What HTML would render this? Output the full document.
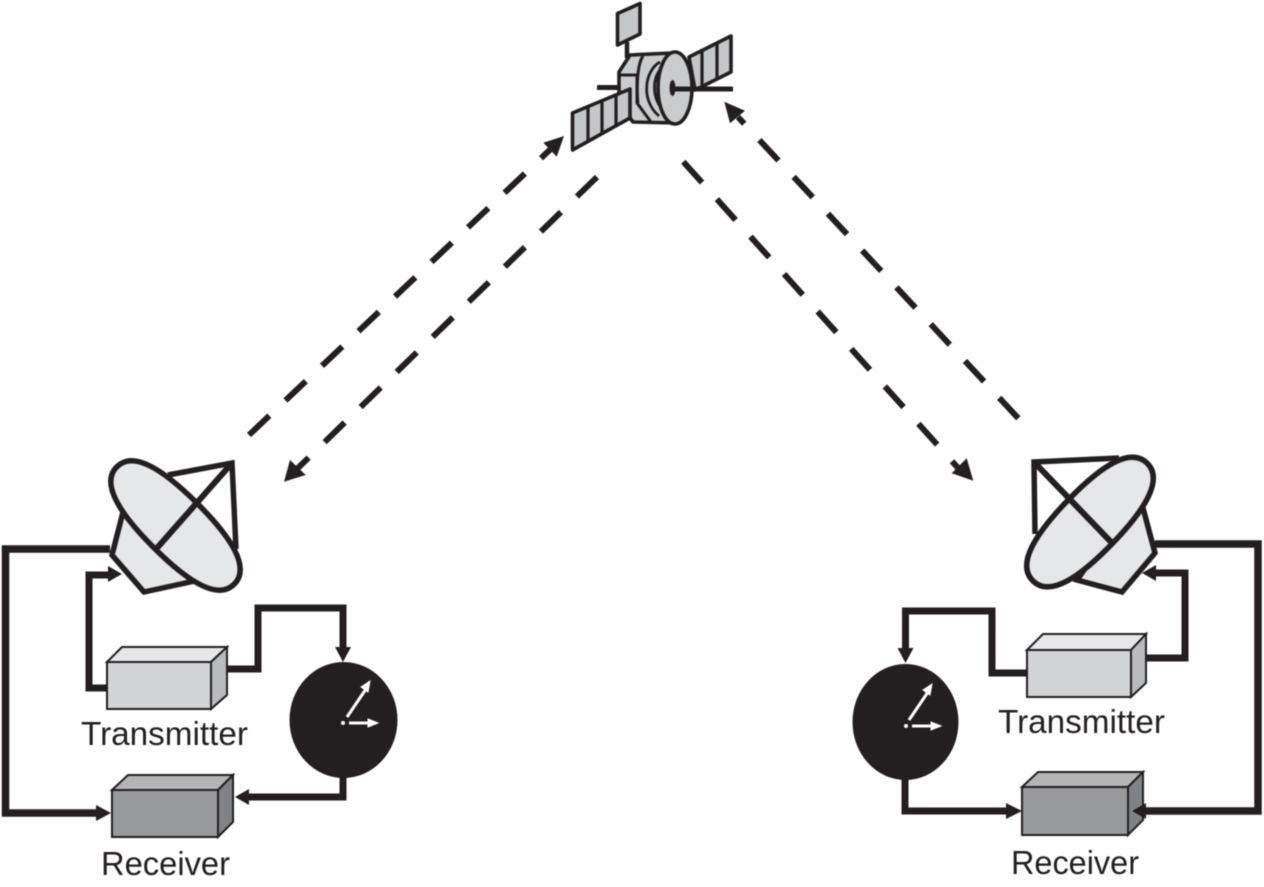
<!DOCTYPE html>
<html><head><meta charset="utf-8"><style>
html,body{margin:0;padding:0;background:#fff}
svg{display:block}
text{font-family:"Liberation Sans",sans-serif;font-size:33px;fill:#231f20}
#all{filter:blur(0.45px)}
</style></head><body>
<svg width="1264" height="887" viewBox="0 0 1264 887" xmlns="http://www.w3.org/2000/svg">
<g id="all">
<g stroke="#231f20" stroke-width="6" fill="none" stroke-dasharray="28 22.3">
<path d="M249,435 L550,149.700"/>
<path d="M597,177 L298,468"/>
<path d="M683.300,161.700 L959,469"/>
<path d="M1018.300,418.300 L738,117"/>
</g>
<g fill="#231f20">
<path d="M564,136 L543.300,142.700 L556.700,156.700Z"/>
<path d="M284,481.700 L290,460 L305.700,475Z"/>
<path d="M973.300,480.700 L951.700,473.300 L966.700,458.300Z"/>
<path d="M724.300,101.700 L730,123.300 L745,110.700Z"/>
</g>

<!-- Satellite -->
<g stroke="#231f20" stroke-width="3.6" stroke-linejoin="round">
<path d="M627,42V58" fill="none" stroke-width="4.500"/>
<path d="M617.500,13.500L640,3.500V34L617.500,45Z" fill="#c4c6c8"/>
<path d="M597,87.500H620" fill="none" stroke-width="5"/>
<path d="M619,72L630,55L672,53L676,123L633,122L619,103Z" fill="#c9cbcd"/>
<path d="M619,75H637V103L651,122" fill="none" stroke-width="3"/>
<path d="M643,56C636,66 637,95 638,103" fill="none" stroke-width="3"/>
<path d="M660,62C645,70 640,100 659,116M662,68C652,76 651,100 665,112" fill="none" stroke-width="2.800"/>
<path d="M572.500,113L630,89V118L572.500,150Z" fill="#c4c6c8"/>
<path d="M588,107V141M602,101V134M616,95V126" stroke-width="3.200" fill="none"/>
<path d="M689,57L731,36V72L695,90Z" fill="#c4c6c8"/>
<path d="M702,51V85M717,43V78" stroke-width="3.200" fill="none"/>
<ellipse cx="675" cy="88" rx="17" ry="36" fill="#c9cbcd"/>
<ellipse cx="672.500" cy="88" rx="3" ry="8" fill="#231f20" stroke="none"/>
<path d="M673,89H733" fill="none" stroke-width="5"/>
</g>

<!-- Left dish -->
<g stroke="#231f20" stroke-width="5.5" stroke-linejoin="miter" fill="#e6e7e8">
<path d="M123,512L112,555L144,592L190,582L176,540Z"/>
<path d="M168,475L232,463L236,549" fill="#fff"/>
<path transform="translate(175.500 525.500) rotate(45)" d="M-83,0C-83,-24 -46,-31 0,-31C46,-31 83,-24 83,0C83,24 46,31 0,31C-46,31 -83,24 -83,0Z"/>
<path d="M232,463L157,548" fill="none" stroke-width="6"/>
</g>
<!-- Right dish -->
<g stroke="#231f20" stroke-width="5.5" stroke-linejoin="miter" fill="#e6e7e8">
<path d="M1143,508L1155,553L1122,592L1077,580L1105,540Z"/>
<path d="M1119,458L1034,462L1035,534" fill="#fff"/>
<path transform="translate(1090 522) rotate(-46)" d="M-82,0C-82,-24 -46,-31 0,-31C46,-31 82,-24 82,0C82,24 46,31 0,31C-46,31 -82,24 -82,0Z"/>
<path d="M1034,462L1112,543" fill="none" stroke-width="6"/>
</g>

<!-- Left wires -->
<g stroke="#231f20" fill="none" stroke-linejoin="miter">
<path d="M110,549H5.500V813H100" stroke-width="7.5"/>
<path d="M107,688H89V575H110" stroke-width="7"/>
<path d="M227,669H258V608H343V650" stroke-width="7"/>
<path d="M343,775V797H246" stroke-width="7"/>
</g>
<g fill="#231f20">
<path d="M111,813L96,805V821Z"/>
<path d="M122,574L108,566V582Z"/>
<path d="M343,662L335,647H351Z"/>
<path d="M235,797L249,789V805Z"/>
</g>
<!-- Right wires -->
<g stroke="#231f20" fill="none" stroke-linejoin="miter">
<path d="M1155,544H1258V811H1145" stroke-width="7.5"/>
<path d="M1146,658H1185V573H1155" stroke-width="7"/>
<path d="M1027,673H992V611H905.500V650" stroke-width="7"/>
<path d="M905,775V811H1010" stroke-width="7"/>
</g>

<!-- Boxes -->
<g stroke="#231f20" stroke-width="2" stroke-linejoin="miter">
<path d="M107,662L122,647H227L211,662Z" fill="#e6e7e8"/>
<path d="M211,662L227,647V695L211,709Z" fill="#b9bbbd"/>
<rect x="107" y="662" width="104" height="47" fill="#d1d3d4"/>
<path d="M112,790L128,775H233L218,790Z" fill="#b3b4b6"/>
<path d="M218,790L233,775V822L218,837Z" fill="#808285"/>
<rect x="112" y="790" width="106" height="47" fill="#98999b"/>
<path d="M1027,650L1043,634H1146L1131,650Z" fill="#e6e7e8"/>
<path d="M1131,650L1146,634V683L1131,697Z" fill="#b9bbbd"/>
<rect x="1027" y="650" width="104" height="47" fill="#d1d3d4"/>
<path d="M1022,787L1038,772H1143L1128,787Z" fill="#b3b4b6"/>
<path d="M1128,787L1143,772V820L1128,835Z" fill="#808285"/>
<rect x="1022" y="787" width="106" height="48" fill="#98999b"/>
</g>
<g fill="#231f20">
<path d="M1132,811L1146,803V819Z"/>
<path d="M1142,573L1156,565V581Z"/>
<path d="M905.500,663L897.500,648H913.500Z"/>
<path d="M1022,811L1006,803V819Z"/>
</g>

<!-- Clocks -->
<ellipse cx="343.500" cy="720" rx="54" ry="58" fill="#231f20"/>
<ellipse cx="905.500" cy="722" rx="53" ry="58" fill="#231f20"/>
<g stroke="#fff" stroke-width="3" fill="#fff">
<path d="M347,717L366,689" fill="none"/>
<path d="M370,681L361,687L368,692Z" stroke-width="1"/>
<path d="M349,723H369" fill="none"/>
<path d="M378,723L368,719V727Z" stroke-width="1"/>
<path d="M909,720L928,692" fill="none"/>
<path d="M932,684L923,690L930,695Z" stroke-width="1"/>
<path d="M912,726H932" fill="none"/>
<path d="M941,726L931,722V730Z" stroke-width="1"/>
</g>
<circle cx="343" cy="723" r="2" fill="#fff"/>
<circle cx="906" cy="726" r="2" fill="#fff"/>

<text x="81" y="745" textLength="167" lengthAdjust="spacingAndGlyphs">Transmitter</text>
<text x="101" y="875" textLength="129" lengthAdjust="spacingAndGlyphs">Receiver</text>
<text x="998" y="733" textLength="167" lengthAdjust="spacingAndGlyphs">Transmitter</text>
<text x="1011" y="874" textLength="128" lengthAdjust="spacingAndGlyphs">Receiver</text>
</g>
</svg>
</body></html>
